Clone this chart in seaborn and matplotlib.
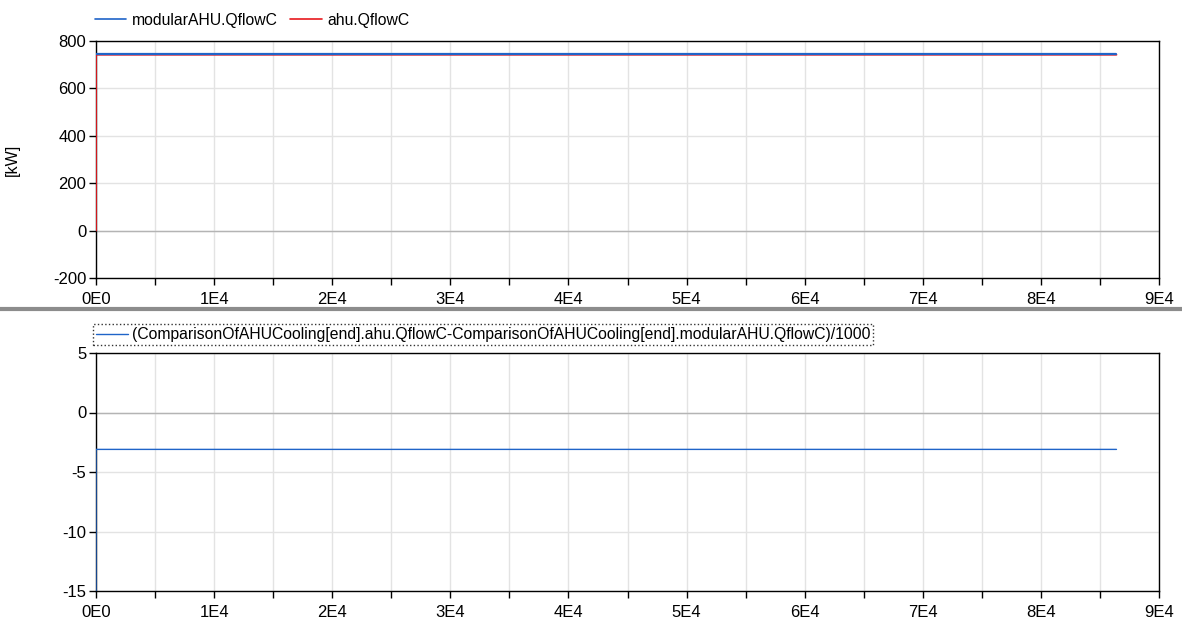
import matplotlib
matplotlib.use('Agg')
import matplotlib.pyplot as plt
import numpy as np
import pandas
import seaborn as sns
from matplotlib.lines import Line2D

# simulation time [s]
time = [0, 1, 86400]
# cooling heat flow [kW]
modularAHU_QflowC = [745.5, 745.5, 745.5]
ahu_QflowC = [0, 742.0, 742.0]
# difference (ahu - modularAHU)/1000
diff_time = [0, 1, 86400]
diff_QflowC = [-745.5, -3.1, -3.1]

xticks = [0, 10000, 20000, 30000, 40000, 50000, 60000, 70000, 80000, 90000]
xticklabels = ['0E0', '1E4', '2E4', '3E4', '4E4', '5E4', '6E4', '7E4', '8E4', '9E4']
top_yticks = [-200, 0, 200, 400, 600, 800]
bot_yticks = [-15, -10, -5, 0, 5]

blue = '#1f64c8'
red = '#e8191e'

sns.set_style('white')
plt.rcParams['font.family'] = ['Liberation Sans', 'DejaVu Sans']
for key in ['text.color', 'xtick.color', 'ytick.color', 'axes.labelcolor']:
    plt.rcParams[key] = 'black'

W, H = 1182, 621
fig = plt.figure(figsize=(W / 100, H / 100), dpi=100)


def make_axes(top, bottom):
    left, right = 96, 1159
    return fig.add_axes([left / W, 1 - bottom / H, (right - left) / W, (bottom - top) / H])


def style_axes(ax, yticks):
    ax.set_xlim(0, 90000)
    ax.set_ylim(yticks[0], yticks[-1])
    ax.set_xticks(xticks)
    ax.set_xticks(np.arange(5000, 90000, 10000), minor=True)
    ax.set_xticklabels(xticklabels)
    ax.set_yticks(yticks)
    ax.set_yticklabels([str(v) for v in yticks])
    ax.grid(True, which='both', axis='x', color='#e3e3e3', lw=1)
    ax.grid(True, which='major', axis='y', color='#e3e3e3', lw=1)
    ax.axhline(0, color='#b4b4b4', lw=1, zorder=1)
    for s in ax.spines.values():
        s.set_color('black')
        s.set_linewidth(1)
        s.set_zorder(2.5)
    ax.tick_params(axis='both', which='both', direction='out', length=5, width=1,
                   color='black', labelcolor='black', labelsize=12, bottom=True, left=True)
    ax.tick_params(axis='x', pad=5)
    ax.tick_params(axis='y', pad=2)
    ax.set_xlabel('')
    ax.set_ylabel('')


# top chart
ax1 = make_axes(41, 278)
top_df = pandas.DataFrame({'time': time, 'modularAHU': modularAHU_QflowC, 'ahu': ahu_QflowC})
sns.lineplot(data=top_df, x='time', y='ahu', ax=ax1, color=red, lw=1.3, zorder=3)
sns.lineplot(data=top_df, x='time', y='modularAHU', ax=ax1, color=blue, lw=1.6, zorder=4)
style_axes(ax1, top_yticks)
ax1.set_ylabel('[kW]', fontsize=11.5, color='black')
ax1.yaxis.set_label_coords((20 - 96) / 1063, 0.5)
ax1.legend(handles=[Line2D([], [], color=blue, lw=1.2), Line2D([], [], color=red, lw=1.2)],
           labels=['modularAHU.QflowC', 'ahu.QflowC'], ncol=2, frameon=False,
           loc='lower left', bbox_to_anchor=(-0.004, 1.042), fontsize=11.3,
           handlelength=2.0, handletextpad=0.35, columnspacing=0.8, borderaxespad=0.1,
           borderpad=0.1)

# separator
fig.add_artist(Line2D([0, 1], [1 - 308.5 / H, 1 - 308.5 / H], color='#8c8c8c', lw=3))

# bottom chart
ax2 = make_axes(353, 591)
bot_df = pandas.DataFrame({'time': diff_time, 'diff': diff_QflowC})
sns.lineplot(data=bot_df, x='time', y='diff', ax=ax2, color=blue, lw=1.0, zorder=3)
style_axes(ax2, bot_yticks)
leg = ax2.legend(handles=[Line2D([], [], color=blue, lw=1.0)],
                 labels=['(ComparisonOfAHUCooling[end].ahu.QflowC-ComparisonOfAHUCooling[end].modularAHU.QflowC)/1000'],
                 frameon=True, loc='lower left', bbox_to_anchor=(-0.004, 1.025), fontsize=11.3,
                 handlelength=2.0, handletextpad=0.25, borderaxespad=0.1, borderpad=0.2,
                 fancybox=False)
leg.get_frame().set_edgecolor('black')
leg.get_frame().set_linestyle(':')
leg.get_frame().set_linewidth(1)

fig.savefig('out.png', dpi=100)
